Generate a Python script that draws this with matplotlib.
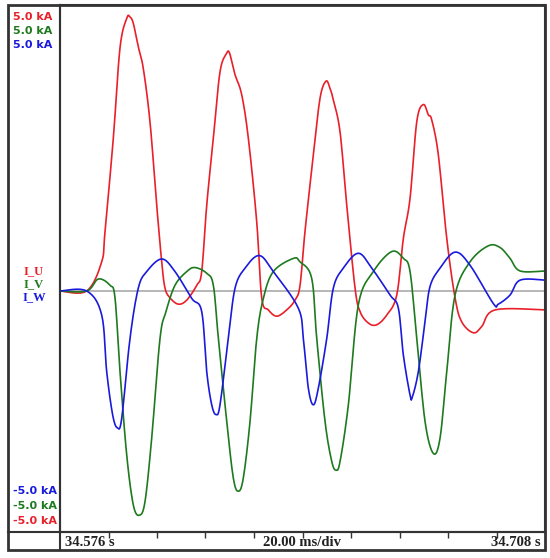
import matplotlib
matplotlib.use("Agg")
import matplotlib.pyplot as plt
import numpy as np
from matplotlib.patches import Rectangle
from matplotlib.lines import Line2D

t0 = 34.576
span_ms = 132.0

red_t = [0, 7.27, 11.35, 12.25, 14.51, 16.33, 18.16, 19.05, 19.95, 21.31, 22.67, 24.49, 26.32, 27.68, 28.58, 29.94, 32.20, 34.49, 37.21, 38.57, 39.93, 41.73, 43.55, 45.38, 46.08, 46.74, 47.64, 49.46, 51.26, 53.54, 54.90, 56.70, 58.99, 61.71, 63.97, 65.33, 66.69, 68.95, 70.77, 72.41, 73.49, 74.39, 76.22, 78.04, 80.30, 81.66, 83.92, 86.21, 88.93, 91.65, 93.45, 95.27, 97.10, 98.89, 100.25, 101.18, 102.97, 105.26, 107.52, 109.34, 112.50, 114.79, 118.41, 132.0]
red_i = [0, 0, 0.51, 1.04, 2.67, 4.25, 4.77, 4.79, 4.68, 4.27, 3.89, 2.96, 1.50, 0.51, 0.05, -0.12, -0.23, -0.16, 0.10, 0.34, 1.50, 2.67, 3.83, 4.16, 4.17, 4.01, 3.78, 3.43, 2.67, 1.21, -0.12, -0.33, -0.44, -0.33, -0.16, 0.10, 1.05, 2.38, 3.37, 3.67, 3.54, 3.34, 2.78, 1.50, 0.05, -0.36, -0.56, -0.59, -0.42, -0.07, 0.92, 1.62, 2.96, 3.26, 3.08, 2.99, 2.38, 0.92, -0.12, -0.54, -0.73, -0.62, -0.33, -0.33]

green_t = [0, 7.27, 10.43, 13.61, 14.97, 16.33, 18.16, 19.95, 21.59, 23.14, 24.96, 27.22, 28.85, 31.30, 34.49, 36.75, 39.93, 41.73, 43.09, 45.38, 47.17, 48.53, 49.89, 51.72, 53.54, 55.34, 58.06, 63.50, 65.33, 68.51, 69.87, 72.13, 73.96, 75.13, 76.22, 78.48, 81.20, 85.28, 90.29, 93.45, 95.27, 97.10, 99.35, 101.61, 103.44, 105.26, 107.52, 111.60, 116.58, 119.77, 122.49, 125.21, 132.0]
green_i = [0, 0, 0.21, 0.10, -0.12, -1.41, -2.87, -3.74, -3.92, -3.68, -2.57, -0.83, -0.36, 0.10, 0.34, 0.41, 0.31, 0.10, -0.82, -2.28, -3.27, -3.50, -3.27, -2.28, -0.83, -0.13, 0.34, 0.57, 0.51, 0.22, -0.83, -2.28, -2.98, -3.13, -2.98, -1.99, -0.24, 0.34, 0.69, 0.57, 0.34, -0.83, -2.28, -2.84, -2.57, -1.41, -0.07, 0.51, 0.79, 0.76, 0.57, 0.35, 0.35]

blue_t = [0, 7.27, 11.35, 12.71, 14.34, 15.60, 16.79, 19.05, 21.31, 23.60, 27.68, 31.30, 35.85, 38.57, 39.93, 41.29, 42.46, 43.55, 45.81, 47.64, 50.36, 54.25, 58.06, 64.86, 66.22, 67.59, 68.95, 70.31, 72.60, 74.39, 77.11, 81.20, 84.85, 89.83, 92.09, 93.45, 95.27, 95.90, 97.53, 99.35, 100.71, 103.44, 107.52, 111.60, 117.94, 119.30, 122.49, 125.21, 132.0]
blue_i = [0, 0, -0.42, -1.41, -2.17, -2.39, -2.23, -0.83, 0.05, 0.34, 0.56, 0.34, -0.13, -0.36, -1.41, -1.99, -2.16, -1.99, -0.83, 0.05, 0.40, 0.62, 0.34, -0.30, -0.83, -1.70, -1.99, -1.70, -0.83, 0.05, 0.40, 0.66, 0.40, -0.07, -0.30, -1.12, -1.82, -1.85, -1.41, -0.54, 0.08, 0.40, 0.68, 0.45, -0.22, -0.23, -0.07, 0.19, 0.19]

RED, GREEN, BLUE = "#e8202a", "#1e7a1e", "#1a1adc"


def smooth(t, y, n=8):
    """Catmull-Rom curve through the read points, for drawing only."""
    t = np.asarray(t, float); y = np.asarray(y, float)
    P = np.column_stack([t, y])
    P = np.vstack([P[0], P, P[-1]])
    out = []
    s = np.linspace(0, 1, n, endpoint=False)[:, None]
    for k in range(1, len(P) - 2):
        p0, p1, p2, p3 = P[k - 1], P[k], P[k + 1], P[k + 2]
        seg = 0.5 * ((2 * p1) + (-p0 + p2) * s + (2 * p0 - 5 * p1 + 4 * p2 - p3) * s ** 2
                     + (-p0 + 3 * p1 - 3 * p2 + p3) * s ** 3)
        out.append(seg)
    out.append(P[-2][None, :])
    out = np.vstack(out)
    return out[:, 0], out[:, 1]


W, H = 550, 558
fig = plt.figure(figsize=(W/100, H/100), dpi=100)

def fx(px): return px / W
def fy(py): return 1 - py / H

ax = fig.add_axes([fx(60), fy(532), fx(545) - fx(60), fy(5) - fy(532)])
ax.set_xlim(0, span_ms)
ax.set_ylim(-(532 - 291) * 5 / 286, 5)
ax.axhline(0, color="#aaaaaa", lw=1.2, zorder=1)
for tt, ii, c in [(red_t, red_i, RED), (green_t, green_i, GREEN), (blue_t, blue_i, BLUE)]:
    xs, ys = smooth(tt, ii)
    ax.plot(xs, ys, color=c, lw=1.2)
ax.set_xticks([span_ms / 10 * k for k in range(1, 10)])
ax.set_xticklabels([])
ax.set_yticks([])
ax.tick_params(axis="x", direction="out", length=4, width=1, color="#333333")
for s in ax.spines.values():
    s.set_color("#333333")
    s.set_linewidth(1.5)

fig.add_artist(Rectangle((fx(8), fy(550)), fx(545) - fx(8), fy(5) - fy(550),
                         transform=fig.transFigure, fill=False, ec="#333333", lw=2))
fig.add_artist(Line2D([fx(60), fx(60)], [fy(5), fy(550)], transform=fig.transFigure, color="#333333", lw=1.5))
fig.add_artist(Line2D([fx(8), fx(545)], [fy(532), fy(532)], transform=fig.transFigure, color="#333333", lw=1.5))

sans = dict(family="DejaVu Sans", fontsize=8, fontweight="bold", va="center", ha="left")
for txt, c, py in [("5.0 kA", RED, 17), ("5.0 kA", GREEN, 31), ("5.0 kA", BLUE, 45),
                   ("-5.0 kA", BLUE, 491), ("-5.0 kA", GREEN, 506), ("-5.0 kA", RED, 521)]:
    fig.text(fx(13), fy(py), txt, color=c, **sans)
serif = dict(family="Liberation Serif", fontsize=9, fontweight="bold", va="center")
for txt, c, py in [("I_U", RED, 271), ("I_V", GREEN, 284), ("I_W", BLUE, 297)]:
    fig.text(fx(34), fy(py), txt, color=c, ha="center", **serif)

bs = dict(family="Liberation Serif", fontsize=10.5, fontweight="bold", va="center", color="#222222")
fig.text(fx(65), fy(542), "34.576 s", ha="left", **bs)
fig.text(fx(302), fy(542), "20.00 ms/div", ha="center", **bs)
fig.text(fx(541), fy(542), "34.708 s", ha="right", **bs)

fig.savefig("out.png", dpi=100)
